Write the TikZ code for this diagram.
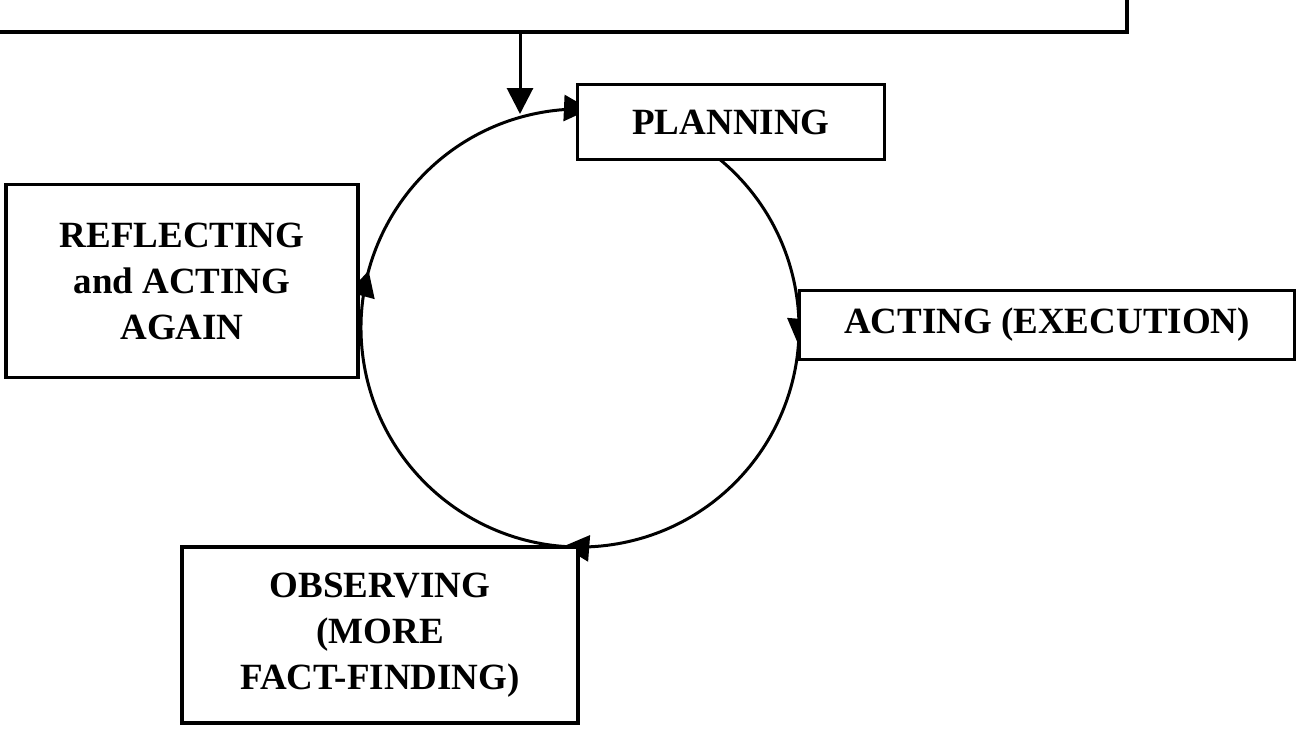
\documentclass[tikz,border=0pt]{standalone}
\usepackage{fontspec}
\setmainfont{Liberation Serif}
\usetikzlibrary{arrows.meta,decorations.markings}
\begin{document}
\begin{tikzpicture}[x=1pt,y=-1pt,
  box/.style={draw,line width=3.5pt,fill=white,align=center,inner sep=0pt,font=\bfseries\fontsize{37}{46}\selectfont},
  tip/.style={-{Triangle[length=26pt,width=26pt]}},
  mk/.style={postaction={decorate},decoration={markings,
     mark=at position 0.035 with {\arrow{Triangle[length=26pt,width=26pt]}},
     mark=at position 0.29 with {\arrow{Triangle[length=26pt,width=26pt]}},
     mark=at position 0.54 with {\arrow{Triangle[length=26pt,width=26pt]}},
     mark=at position 0.82 with {\arrow{Triangle[length=26pt,width=26pt]}}}}]
\useasboundingbox (0,0) rectangle (1306,750);
\coordinate (c) at (580,328);
\draw[line width=3pt,mk] (c) ++(-100:219) arc[start angle=-100,end angle=260,radius=219];
\node[box,minimum width=1150,minimum height=80] (top) at (552,-8) {};
\coordinate (topin) at (520,114);
\draw[line width=3pt,tip] (520,32) -- (topin);
\node[box,minimum width=307,minimum height=75] (plan) at (731,122) {PLANNING};
\node[box,minimum width=495,minimum height=69] (act) at (1047,325) {ACTING (EXECUTION)};
\node[box,minimum width=352,minimum height=193] (refl) at (182,281) {REFLECTING\\and ACTING\\AGAIN};
\node[box,minimum width=396,minimum height=176] (obs) at (380,635) {OBSERVING\\(MORE\\FACT-FINDING)};
\end{tikzpicture}
\end{document}
